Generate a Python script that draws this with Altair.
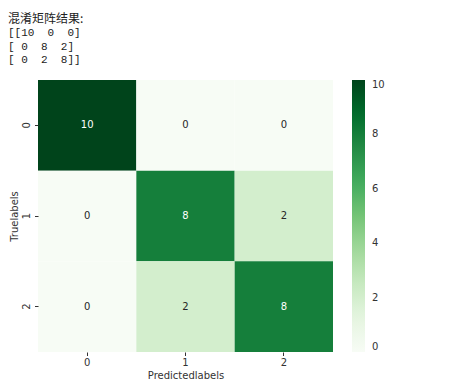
import altair as alt
import pandas as pd

true_labels = ["0", "1", "2"]
pred_labels = ["0", "1", "2"]
matrix = [[10, 0, 0],
          [0, 8, 2],
          [0, 2, 8]]
title_text = "混淆矩阵结果:"
matrix_lines = ["[[10  0  0]", " [ 0  8  2]", " [ 0  2  8]]"]
greens = ["#f7fcf5", "#e5f5e0", "#c7e9c0", "#a1d99b", "#74c476",
          "#41ab5d", "#238b45", "#006d2c", "#00441b"]

rows = []
for i, t in enumerate(true_labels):
    for j, p in enumerate(pred_labels):
        rows.append({"true": t, "pred": p, "value": matrix[i][j]})
df = pd.DataFrame(rows)

# keep spaces visible in SVG
sub_lines = [s.replace(" ", "\u00a0") for s in matrix_lines]

base = alt.Chart(df)

heat = base.mark_rect().encode(
    x=alt.X("pred:N", sort=pred_labels, title="Predictedlabels",
            scale=alt.Scale(paddingInner=0, paddingOuter=0),
            axis=alt.Axis(labelAngle=0, domain=False, tickSize=3.5,
                          tickColor="#333", labelPadding=2, titlePadding=3)),
    y=alt.Y("true:N", sort=true_labels, title="Truelabels",
            scale=alt.Scale(paddingInner=0, paddingOuter=0),
            axis=alt.Axis(labelAngle=270, domain=False, tickSize=3.5,
                          tickColor="#333", labelPadding=3, titlePadding=2,
                          labelBaseline="bottom", labelAlign="center")),
    color=alt.Color("value:Q",
                    scale=alt.Scale(domain=[0, 10], range=greens, interpolate="rgb"),
                    legend=alt.Legend(orient="none", legendX=314, legendY=0,
                                      direction="vertical", title=None,
                                      gradientLength=272, gradientThickness=13,
                                      gradientStrokeWidth=0,
                                      values=[0, 2, 4, 6, 8, 10],
                                      labelOffset=7, labelFontSize=10,
                                      labelColor="#333", labelFont="DejaVu Sans")),
)

text = base.mark_text(fontSize=10, font="DejaVu Sans").encode(
    x=alt.X("pred:N", sort=pred_labels),
    y=alt.Y("true:N", sort=true_labels),
    text=alt.Text("value:Q"),
    color=alt.condition(alt.datum.value > 5, alt.value("white"), alt.value("#262626")),
)

chart = (heat + text).properties(
    width=295, height=272,
    autosize=alt.AutoSizeParams(type="none"),
    padding={"left": 30, "top": 72, "right": 120, "bottom": 28},
    title=alt.TitleParams(
        text=title_text, subtitle=sub_lines,
        anchor="start", frame="group", dx=-30, offset=14,
        font="Noto Sans CJK SC", fontSize=12, fontWeight="normal", color="#222",
        subtitleFont="Liberation Mono", subtitleFontSize=11,
        subtitleColor="#222", subtitleLineHeight=13.5, subtitlePadding=1,
    ),
).configure_view(stroke=None).configure_axis(
    labelFont="DejaVu Sans", labelFontSize=10, labelColor="#333",
    titleFont="DejaVu Sans", titleFontSize=10, titleFontWeight="normal", titleColor="#333",
)

chart.save("out.html", embed_options={"renderer": "svg", "actions": False})
